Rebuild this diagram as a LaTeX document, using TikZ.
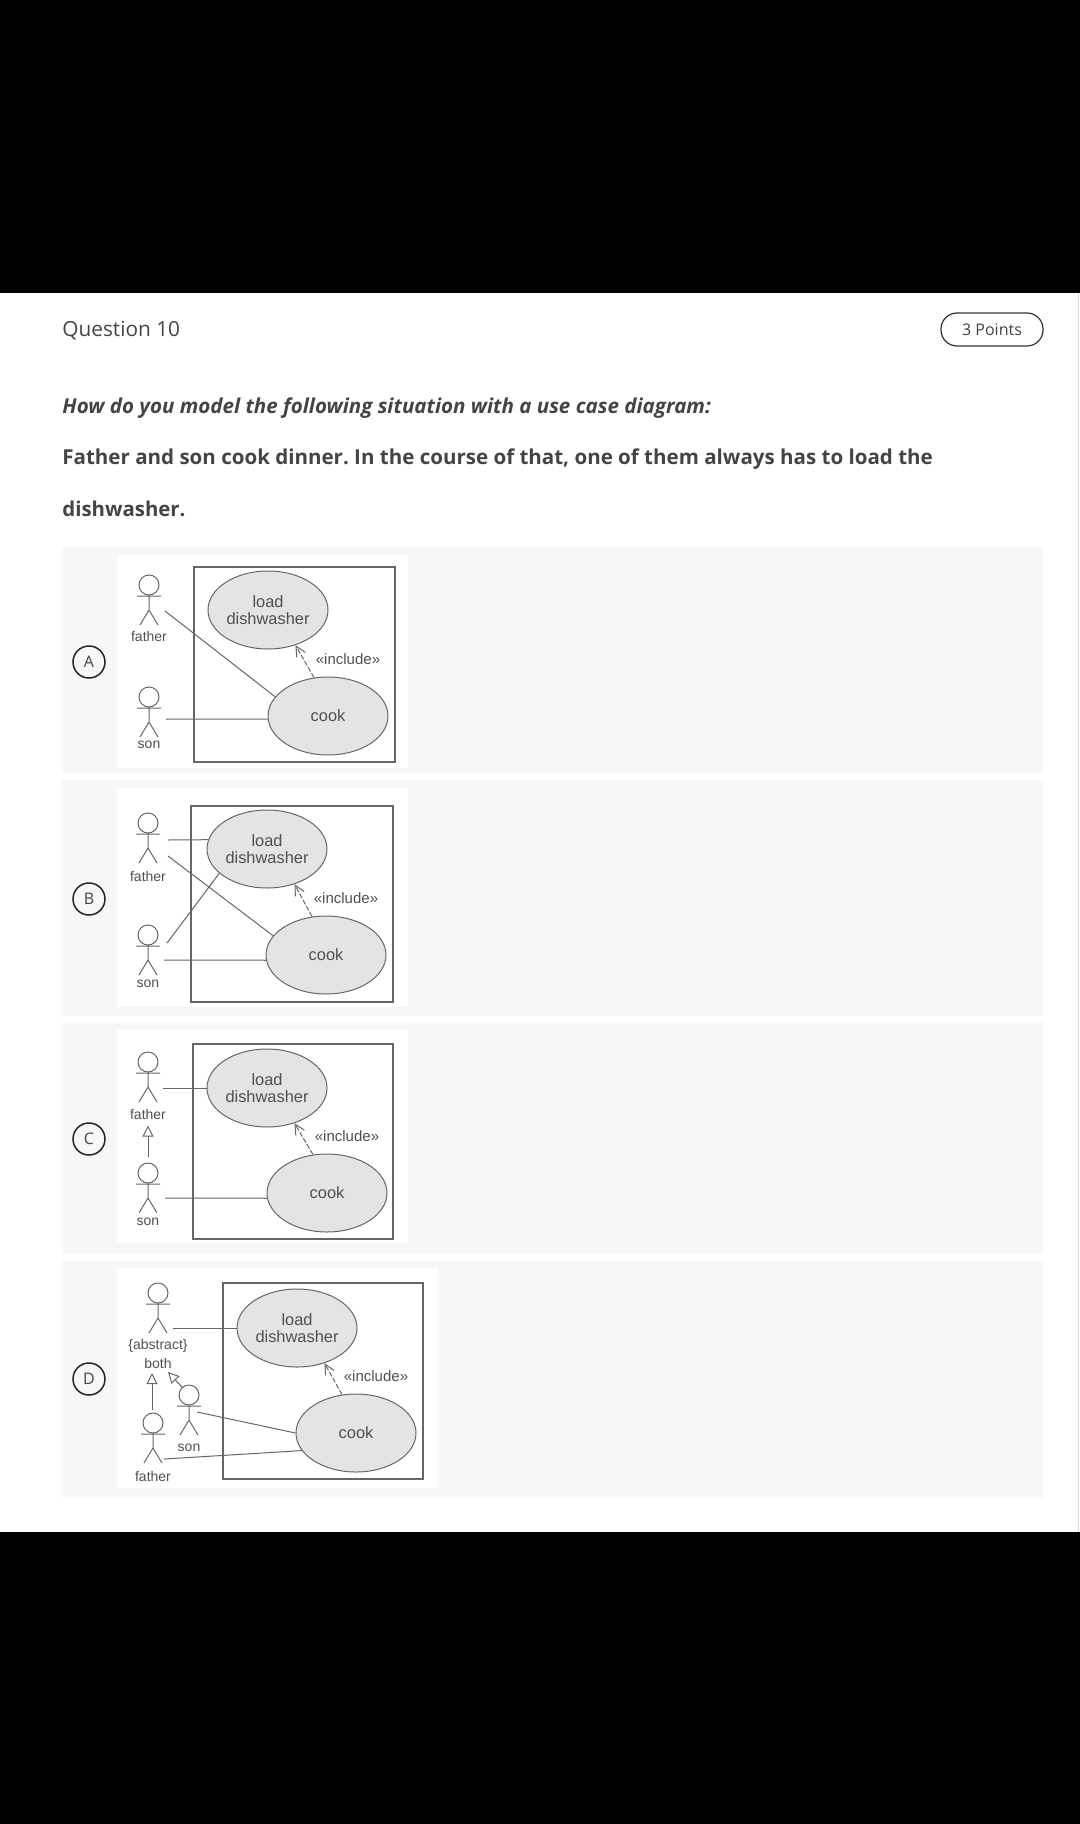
\documentclass[tikz,border=0pt]{standalone}
\usepackage{fontspec}
\setmainfont{Open Sans}
\newfontfamily\umlfont{Liberation Sans}
\usetikzlibrary{arrows.meta,shapes.geometric}
\definecolor{pagetext}{HTML}{444444}
\definecolor{umlline}{HTML}{666666}
\definecolor{umltext}{HTML}{505050}
\definecolor{panelbg}{HTML}{F7F7F7}
\definecolor{casefill}{HTML}{E4E4E4}
\tikzset{
  pagelabel/.style={anchor=west,inner sep=0pt,text=pagetext},
  usecase/.style={draw=umlline,fill=casefill,ellipse,line width=.5pt,inner sep=0pt,minimum width=60pt,minimum height=39pt,
    font=\umlfont\fontsize{8.2}{8.8}\selectfont,text=umltext,align=center},
  actorname/.style={font=\umlfont\fontsize{7}{8}\selectfont,text=umltext,inner sep=0pt},
  assoc/.style={draw=umlline,line width=.5pt},
  includes/.style={draw=umlline,line width=.5pt,dash pattern=on 2.5pt off 1pt,-{Straight Barb[length=5pt,width=5pt]}},
  generalizes/.style={draw=umlline,line width=.5pt,-{Triangle[open,length=5.5pt,width=5.5pt,fill=white]}},
  actor/.pic={
    \draw[draw=umlline,line width=.5pt] (0,0) circle (10);
    \draw[draw=umlline,line width=.5pt] (-12,11) -- (12,11) (0,10) -- (0,25) (-9,40) -- (0,25) -- (9,40);
  }
}
\begin{document}
\begin{tikzpicture}[x=.5pt,y=-.5pt]
  \useasboundingbox (0,0) rectangle (1080,1824);
  % --- screen ---
  \fill[black] (0,0) rectangle (1080,293);
  \fill[black] (0,1532) rectangle (1080,1824);
  \draw[black!15,line width=.5pt] (1078,293) -- (1078,1532);
  % --- question text ---
  \frenchspacing
  \node[pagelabel,font=\fontsize{10.4}{12}\selectfont] (question) at (62,331) {Question 10};
  \node[draw=black!80,line width=.6pt,rounded corners=8pt,minimum width=51pt,minimum height=16.5pt,inner sep=0pt,
        text=pagetext,font=\fontsize{8}{10}\selectfont] (points) at (992,329.5) {3 Points};
  \node[pagelabel,font=\bfseries\itshape\fontsize{10.27}{12}\selectfont] (howto) at (62,408) {How do you model the following situation with a use case diagram:};
  \node[pagelabel,font=\bfseries\fontsize{10.27}{12}\selectfont] (situation) at (62,459) {Father and son cook dinner. In the course of that, one of them always has to load the};
  \node[pagelabel,font=\bfseries\fontsize{10.2}{12}\selectfont] (situationb) at (62,509) {dishwasher.};
  % --- answer panels ---
  \foreach \lab/\pa/\pb/\wr/\wa/\wb/\bl/\ba/\br/\bb/\lx/\ly/\cx/\cy/\ix/\iy/\my in {
    A/547/773/408/555/768/194/567/395/762/268/610/328/716/348/659/662,
    B/780/1016/408/788/1007/191/806/393/1002/267/849/326/955/346/898/899,
    C/1022/1254/408/1030/1243/193/1044/393/1239/267/1088/327/1193/347/1136/1139,
    D/1261/1498/438/1268/1488/223/1283/423/1479/297/1328/356/1433/376/1376/1379} {
    \fill[panelbg] (62,\pa) rectangle (1043,\pb);
    \fill[white] (117,\wa) rectangle (\wr,\wb);
    \draw[umlline,line width=.65pt] (\bl,\ba) rectangle (\br,\bb);
    \node[draw=black!85,circle,line width=.75pt,minimum size=16pt,inner sep=0pt,text=pagetext,
          font=\fontsize{8}{9}\selectfont] (mark\lab) at (89,\my) {\lab};
    \node[usecase] (load\lab) at (\lx,\ly) {load\\dishwasher};
    \node[usecase] (cook\lab) at (\cx,\cy) {cook};
    \draw[includes] (cook\lab.110) -- (load\lab.-52);
    \node[font=\umlfont\fontsize{7.5}{8}\selectfont,text=umltext,inner sep=0pt] (incl\lab) at (\ix,\iy) {«include»};
  }
  % --- A ---
  \pic at (149,585) {actor};
  \pic at (149,697) {actor};
  \node[actorname] (fatherA) at (149,636) {father};
  \node[actorname] (sonA) at (149,745) {son};
  \coordinate (fatherAr) at (165,611);
  \coordinate (sonAr) at (166,719);
  \draw[assoc] (fatherAr) -- (cookA.160);
  \draw[assoc] (sonAr) -- (cookA.183);
  % --- B ---
  \pic at (148,823) {actor};
  \pic at (148,935) {actor};
  \node[actorname] (fatherB) at (148,876) {father};
  \node[actorname] (sonB) at (148,984) {son};
  \coordinate (fatherBr) at (168,840);
  \coordinate (fatherBs) at (168,856);
  \coordinate (sonBu) at (167,943);
  \coordinate (sonBr) at (164,960);
  \draw[assoc] (fatherBr) -- (loadB.171);
  \draw[assoc] (fatherBs) -- (cookB.160);
  \draw[assoc] (sonBu) -- (loadB.207);
  \draw[assoc] (sonBr) -- (cookB.185);
  % --- C ---
  \pic at (148,1062) {actor};
  \pic at (148,1173) {actor};
  \node[actorname] (fatherC) at (148,1114) {father};
  \node[actorname] (sonC) at (148,1222) {son};
  \coordinate (fatherCr) at (163,1088);
  \coordinate (sonCr) at (165,1198);
  \coordinate (sonCt) at (148,1157);
  \draw[assoc] (fatherCr) -- (loadC.west);
  \draw[assoc] (sonCr) -- (cookC.185);
  \draw[generalizes,shorten >=3pt] (sonCt) -- (fatherC.south);
  % --- D ---
  \pic at (158,1293) {actor};
  \pic at (153,1423) {actor};
  \pic at (189,1395) {actor};
  \node[actorname] (bothD) at (158,1354) {\shortstack{\{abstract\}\\both}};
  \node[actorname] (fatherD) at (153,1476) {father};
  \node[actorname] (sonD) at (189,1448) {son};
  \coordinate (bothDr) at (173,1328);
  \coordinate (sonDr) at (197,1412);
  \coordinate (fatherDr) at (164,1459);
  \coordinate (fatherDt) at (152,1410);
  \coordinate (bothDf) at (152,1373);
  \coordinate (sonDt) at (183,1388);
  \coordinate (bothDs) at (168,1372);
  \draw[assoc] (bothDr) -- (loadD.west);
  \draw[assoc] (sonDr) -- (cookD.west);
  \draw[assoc] (fatherDr) -- (cookD.198);
  \draw[generalizes] (fatherDt) -- (bothDf);
  \draw[generalizes] (sonDt) -- (bothDs);
\end{tikzpicture}
\end{document}
